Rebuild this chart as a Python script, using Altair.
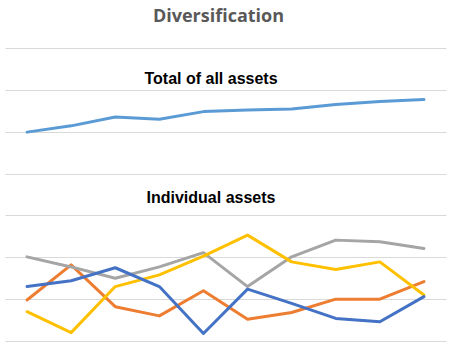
import altair as alt
import pandas as pd

periods = list(range(1, 11))
total = [4.99, 5.14, 5.35, 5.30, 5.48, 5.52, 5.54, 5.65, 5.72, 5.77]
orange = [0.98, 1.82, 0.82, 0.60, 1.20, 0.52, 0.68, 1.00, 1.00, 1.42]
gray = [2.01, 1.77, 1.50, 1.77, 2.11, 1.30, 2.01, 2.41, 2.37, 2.21]
yellow = [0.70, 0.20, 1.30, 1.58, 2.03, 2.53, 1.89, 1.71, 1.89, 1.10]
blue = [1.30, 1.44, 1.75, 1.30, 0.18, 1.24, 0.90, 0.54, 0.46, 1.06]

series_names = ["Total", "Asset A", "Asset B", "Asset C", "Asset D"]
series_values = [total, orange, gray, yellow, blue]
series_colors = ["#5B9BD5", "#ED7D31", "#A5A5A5", "#FFC000", "#4472C4"]

labels = ["Total of all assets", "Individual assets"]
label_y = [6.14, 3.30]

rows = []
for k, (name, vals) in enumerate(zip(series_names, series_values)):
    for p, v in zip(periods, vals):
        rows.append({"period": p, "value": v, "series": name, "order": k})
df = pd.DataFrame(rows)
lab_df = pd.DataFrame({"text": labels, "y": label_y})

yscale = alt.Scale(domain=[0, 7], nice=False, zero=True)

lines = alt.Chart(df).mark_line(strokeWidth=3, strokeCap="round", strokeJoin="round").encode(
    x=alt.X("period:O", scale=alt.Scale(type="point", padding=0.5), axis=None),
    y=alt.Y("value:Q", scale=yscale,
            axis=alt.Axis(values=[0, 1, 2, 3, 4, 5, 6, 7], labels=False, ticks=False,
                          domain=False, title=None, grid=True, gridColor="#D9D9D9",
                          gridWidth=1)),
    color=alt.Color("series:N", scale=alt.Scale(domain=series_names, range=series_colors),
                    legend=None),
    order=alt.Order("order:Q"),
)

texts = alt.Chart(lab_df).mark_text(
    font="Liberation Sans", fontWeight="bold", fontSize=16, color="#000000",
    baseline="alphabetic", align="center"
).encode(
    x=alt.value(206),
    y=alt.Y("y:Q", scale=yscale),
    text="text:N",
)

chart = alt.layer(lines, texts).properties(
    width=441, height=293,
    title=alt.TitleParams("Diversification", font="Open Sans", fontSize=18,
                          fontWeight="bold", color="#595959", dx=-7, offset=22),
    autosize=alt.AutoSizeParams(type="none"),
    padding={"left": 5, "top": 48, "right": 6, "bottom": 10},
).configure(background="white").configure_view(strokeWidth=0, stroke=None)

chart.save("out.html", embed_options={"renderer": "svg", "actions": False})
